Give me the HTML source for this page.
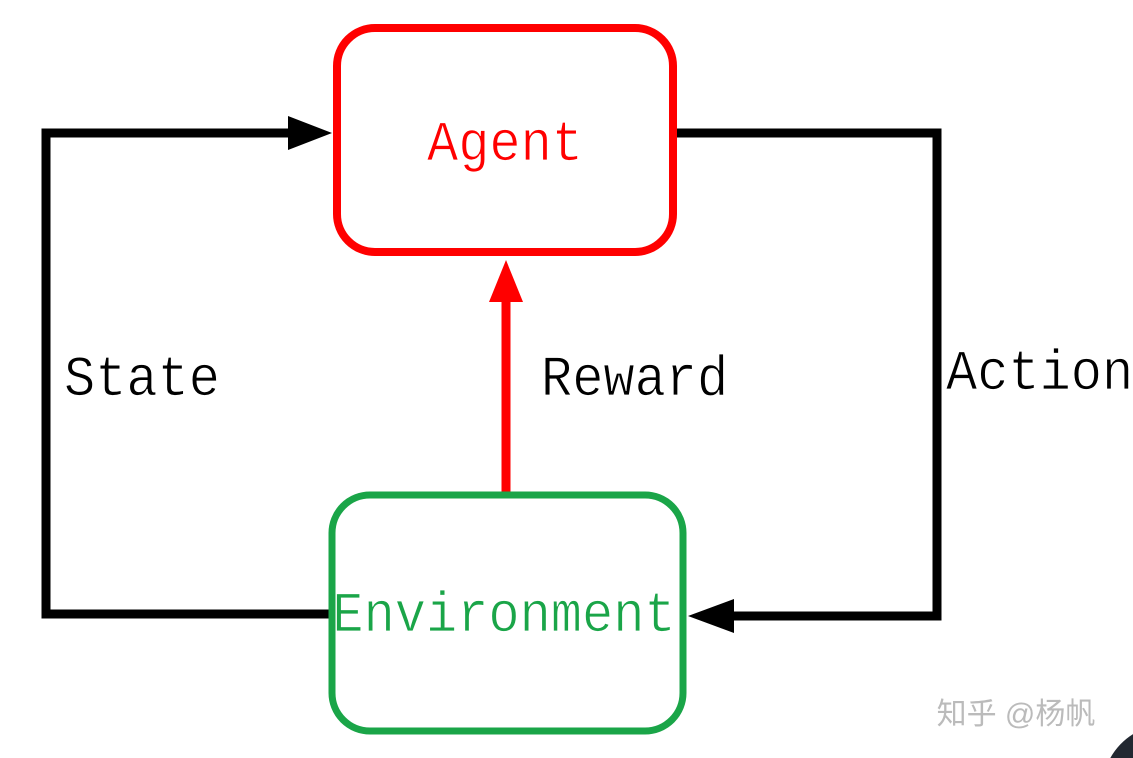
<!DOCTYPE html>
<html><head><meta charset="utf-8"><style>
html,body{margin:0;padding:0;background:#fff;width:1133px;height:758px;overflow:hidden}
svg{display:block;overflow:hidden}
</style></head><body>
<svg width="1133" height="758" viewBox="0 0 1133 758" xmlns="http://www.w3.org/2000/svg">
<rect x="0" y="0" width="1133" height="758" fill="#fff"/>
<polyline points="330,614 46,614 46,133 290,133" fill="none" stroke="#000" stroke-width="9"/>
<polygon points="288,116 332,133 288,150" fill="#000"/>
<polyline points="677,133 937,133 937,616 730,616" fill="none" stroke="#000" stroke-width="9"/>
<polygon points="734,599 688,616 734,633" fill="#000"/>
<line x1="506" y1="497" x2="506" y2="298" stroke="#f00" stroke-width="9"/>
<polygon points="489,302 506,260 523,302" fill="#f00"/>
<rect x="337" y="28" width="336" height="224" rx="38" fill="#fff" stroke="#f00" stroke-width="8"/>
<rect x="332" y="495" width="351" height="236" rx="38" fill="#fff" stroke="#1aa548" stroke-width="7"/>
<g font-family="Liberation Mono, monospace" font-size="52" stroke="#fff" stroke-width="0.8">
<text transform="translate(505,160) scale(1,1.08)" fill="#f00" text-anchor="middle">Agent</text>
<text transform="translate(504,631) scale(1,1.08)" fill="#1aa548" text-anchor="middle">Environment</text>
<text transform="translate(64,395) scale(1,1.08)" fill="#000">State</text>
<text transform="translate(541,395) scale(1,1.08)" fill="#000">Reward</text>
<text transform="translate(946,389) scale(1,1.08)" fill="#000">Action</text>
</g>
<text x="1016" y="724" font-family="Liberation Sans, Noto Sans CJK SC, sans-serif" font-size="30" fill="#bbb" text-anchor="middle">知乎 @杨帆</text>
<path d="M1110.3,758 A66,66 0 0 1 1133,734.1 L1133,758 Z" fill="#222831"/>
</svg>
</body></html>
